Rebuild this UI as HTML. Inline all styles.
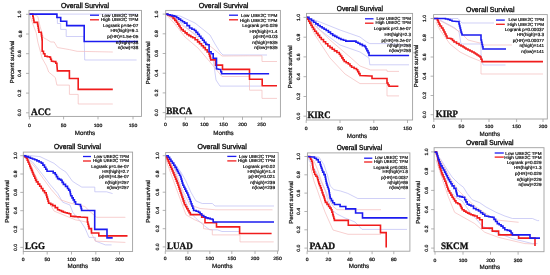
<!DOCTYPE html>
<html><head><meta charset="utf-8"><style>
html,body{margin:0;padding:0;background:#fff;width:550px;height:275px;overflow:hidden}
svg{display:block;font-family:"Liberation Sans", sans-serif;filter:blur(0.55px)} text{stroke:#111;stroke-width:0.22px;text-rendering:geometricPrecision} .lg{stroke-width:0.2px} .tt{stroke-width:0.36px} .nm{stroke:#111;stroke-width:0.3px} .yl{stroke-width:0.22px}
</style></head><body>
<svg width="550" height="275" viewBox="0 0 550 275">
<rect width="550" height="275" fill="#fff"/>
<g><polyline points="59.6,14.1 138.0,14.1" fill="none" stroke="#bcbcf4" stroke-width="0.7"/><polyline points="57.4,14.1 57.4,23.5 60.7,23.5 60.7,29.4 66.2,29.4 66.2,36.5 84.2,36.5 84.7,60.0 136.6,60.0" fill="none" stroke="#bcbcf4" stroke-width="0.7"/><polyline points="33.0,14.1 37.8,16.4 40.0,26.2 43.3,37.6 46.5,39.3 50.9,42.0 54.2,42.0 57.4,47.5 69.4,49.6 77.1,51.3 112.8,52.0" fill="none" stroke="#f4bcbc" stroke-width="0.7"/><polyline points="29.6,14.1 32.4,22.9 36.2,32.7 37.8,42.0 42.2,58.4 46.5,66.0 48.7,72.0 55.3,77.5 56.9,85.1 69.4,85.1 69.4,94.4 78.2,94.4 78.2,104.0 112.8,104.0" fill="none" stroke="#f4bcbc" stroke-width="0.7"/><polyline points="29.2,14.1 32.4,14.1 32.8,14.1 32.8,16.2 33.2,16.2 33.2,18.2 33.6,18.2 33.6,20.3 34.0,20.3 34.0,22.4 37.3,22.4 37.6,22.4 37.6,24.4 37.9,24.4 37.9,26.3 38.3,26.3 38.3,28.3 38.6,28.3 38.6,30.2 38.9,30.2 38.9,32.2 41.1,32.2 41.3,32.2 41.3,34.0 41.5,34.0 41.5,35.9 41.8,35.9 41.8,37.7 42.0,37.7 42.0,39.6 42.2,39.6 42.2,41.4 42.2,51.3 43.5,51.3 43.5,53.8 44.9,53.8 44.9,56.2 47.3,56.2 47.3,56.8 49.8,56.8 49.8,57.3 50.6,57.3 50.6,59.2 51.4,59.2 51.4,61.1 54.7,61.6 55.8,61.6 55.8,63.2 56.9,63.2 56.9,64.9 57.4,70.9 69.4,70.9 69.4,78.5 78.2,78.5 78.2,89.4 112.8,89.4" fill="none" stroke="#f01c1c" stroke-width="1.6"/><polyline points="29.2,14.1 56.9,14.1 56.9,17.5 60.7,17.5 60.7,21.3 66.7,21.3 66.7,25.6 84.2,25.6 84.2,41.5 138.0,41.5" fill="none" stroke="#1c1cf0" stroke-width="1.6"/><rect x="29" y="10.4" width="112.5" height="106.0" fill="none" stroke="#a0a0a0" stroke-width="0.9"/><line x1="26.0" y1="112.8" x2="29.0" y2="112.8" stroke="#a0a0a0" stroke-width="0.8"/><text x="20.0" y="112.8" transform="rotate(-90 20.0 112.8)" text-anchor="middle" dominant-baseline="central" font-size="4.7" textLength="7.06" lengthAdjust="spacingAndGlyphs" fill="#111">0.0</text><line x1="26.0" y1="93.1" x2="29.0" y2="93.1" stroke="#a0a0a0" stroke-width="0.8"/><text x="20.0" y="93.1" transform="rotate(-90 20.0 93.1)" text-anchor="middle" dominant-baseline="central" font-size="4.7" textLength="7.06" lengthAdjust="spacingAndGlyphs" fill="#111">0.2</text><line x1="26.0" y1="73.4" x2="29.0" y2="73.4" stroke="#a0a0a0" stroke-width="0.8"/><text x="20.0" y="73.4" transform="rotate(-90 20.0 73.4)" text-anchor="middle" dominant-baseline="central" font-size="4.7" textLength="7.06" lengthAdjust="spacingAndGlyphs" fill="#111">0.4</text><line x1="26.0" y1="53.7" x2="29.0" y2="53.7" stroke="#a0a0a0" stroke-width="0.8"/><text x="20.0" y="53.7" transform="rotate(-90 20.0 53.7)" text-anchor="middle" dominant-baseline="central" font-size="4.7" textLength="7.06" lengthAdjust="spacingAndGlyphs" fill="#111">0.6</text><line x1="26.0" y1="34.0" x2="29.0" y2="34.0" stroke="#a0a0a0" stroke-width="0.8"/><text x="20.0" y="34.0" transform="rotate(-90 20.0 34.0)" text-anchor="middle" dominant-baseline="central" font-size="4.7" textLength="7.06" lengthAdjust="spacingAndGlyphs" fill="#111">0.8</text><line x1="26.0" y1="14.3" x2="29.0" y2="14.3" stroke="#a0a0a0" stroke-width="0.8"/><text x="20.0" y="14.3" transform="rotate(-90 20.0 14.3)" text-anchor="middle" dominant-baseline="central" font-size="4.7" textLength="7.06" lengthAdjust="spacingAndGlyphs" fill="#111">1.0</text><line x1="29.4" y1="116.4" x2="29.4" y2="119.4" stroke="#a0a0a0" stroke-width="0.8"/><text x="29.4" y="126.9" text-anchor="middle" font-size="4.7" textLength="2.82" lengthAdjust="spacingAndGlyphs" fill="#111">0</text><line x1="63.6" y1="116.4" x2="63.6" y2="119.4" stroke="#a0a0a0" stroke-width="0.8"/><text x="63.6" y="126.9" text-anchor="middle" font-size="4.7" textLength="5.65" lengthAdjust="spacingAndGlyphs" fill="#111">50</text><line x1="98.0" y1="116.4" x2="98.0" y2="119.4" stroke="#a0a0a0" stroke-width="0.8"/><text x="98.0" y="126.9" text-anchor="middle" font-size="4.7" textLength="8.47" lengthAdjust="spacingAndGlyphs" fill="#111">100</text><line x1="133.0" y1="116.4" x2="133.0" y2="119.4" stroke="#a0a0a0" stroke-width="0.8"/><text x="133.0" y="126.9" text-anchor="middle" font-size="4.7" textLength="8.47" lengthAdjust="spacingAndGlyphs" fill="#111">150</text><text x="13.1" y="61.9" transform="rotate(-90 13.1 61.9)" text-anchor="middle" dominant-baseline="central" class="yl" font-size="5.8" textLength="42.7" lengthAdjust="spacingAndGlyphs" fill="#111">Percent survival</text><text x="61.0" y="8.1" class="tt" font-size="7.3" textLength="48.0" lengthAdjust="spacingAndGlyphs" fill="#111">Overall Survival</text><text x="85.0" y="134.5" text-anchor="middle" font-size="6.2" textLength="20.5" lengthAdjust="spacingAndGlyphs" fill="#111">Months</text><text x="31.1" y="114.7" font-family='"Liberation Serif", serif' class="nm" font-weight="bold" font-size="9.8" textLength="19.9" lengthAdjust="spacingAndGlyphs" fill="#111">ACC</text><line x1="90" y1="15.2" x2="99" y2="15.2" stroke="#1c1cf0" stroke-width="1.3"/><line x1="90" y1="19.8" x2="99" y2="19.8" stroke="#f01c1c" stroke-width="1.3"/><text x="138.3" y="16.8" text-anchor="end" class="lg" font-size="4.4" textLength="36.43" lengthAdjust="spacingAndGlyphs" fill="#111">Low UBE2C TPM</text><text x="138.3" y="21.0" text-anchor="end" class="lg" font-size="4.4" textLength="37.46" lengthAdjust="spacingAndGlyphs" fill="#111">High UBE2C TPM</text><text x="138.3" y="26.8" text-anchor="end" class="lg" font-size="4.4" textLength="35.36" lengthAdjust="spacingAndGlyphs" fill="#111">Logrank p=4e-07</text><text x="138.3" y="32.3" text-anchor="end" class="lg" font-size="4.4" textLength="27.84" lengthAdjust="spacingAndGlyphs" fill="#111">HR(high)=9.1</text><text x="138.3" y="38.3" text-anchor="end" class="lg" font-size="4.4" textLength="30.95" lengthAdjust="spacingAndGlyphs" fill="#111">p(HR)=1.5e-05</text><text x="138.3" y="43.5" text-anchor="end" class="lg" font-size="4.4" textLength="22.41" lengthAdjust="spacingAndGlyphs" fill="#111">n(high)=38</text><text x="138.3" y="49.0" text-anchor="end" class="lg" font-size="4.4" textLength="20.59" lengthAdjust="spacingAndGlyphs" fill="#111">n(low)=38</text></g>
<g><polyline points="165.7,14.1 180.0,16.0 195.0,23.0 210.0,35.0 215.0,44.0 220.0,52.0 223.0,55.0 267.0,55.0" fill="none" stroke="#bcbcf4" stroke-width="0.7"/><polyline points="165.7,14.1 180.0,22.0 195.0,35.0 205.0,48.0 213.0,58.0 216.0,80.0 220.0,86.1 261.0,86.1" fill="none" stroke="#bcbcf4" stroke-width="0.7"/><polyline points="165.7,14.1 180.0,24.0 195.0,34.0 205.0,42.0 215.0,50.0 222.0,56.0 249.5,55.8 262.0,55.8 262.0,61.5 277.0,61.5" fill="none" stroke="#f4bcbc" stroke-width="0.7"/><polyline points="165.7,14.1 175.0,24.0 185.0,37.0 198.0,48.0 210.0,62.0 222.0,76.5 249.5,76.5 249.5,90.2 262.0,90.2 262.0,98.4 277.0,98.4" fill="none" stroke="#f4bcbc" stroke-width="0.7"/><polyline points="165.7,14.1 167.6,14.1 167.6,14.9 169.6,14.9 169.6,15.7 171.5,15.7 171.5,16.5 173.1,16.5 173.1,18.4 174.8,18.4 174.8,20.4 176.4,20.4 176.4,22.3 177.6,22.3 177.6,24.1 178.9,24.1 178.9,26.0 180.1,26.0 180.1,27.8 181.3,27.8 181.3,29.6 183.2,29.6 183.2,31.2 185.1,31.2 185.1,32.9 187.0,32.9 187.0,34.5 188.9,34.5 188.9,35.6 190.8,35.6 190.8,36.7 192.7,36.7 192.7,37.8 195.1,37.8 195.1,39.8 197.6,39.8 197.6,41.9 199.5,41.9 199.5,43.8 201.5,43.8 201.5,45.7 203.4,45.7 203.4,47.6 205.3,47.6 205.3,49.8 207.2,49.8 207.2,52.0 209.1,52.0 209.1,54.2 209.6,54.2 209.6,56.1 210.2,56.1 210.2,58.0 210.7,58.0 210.7,59.9 215.6,59.9 215.6,65.1 222.5,65.1 222.5,69.4 249.5,69.4 249.5,79.2 262.2,79.2 262.2,85.8 277.0,85.8" fill="none" stroke="#f01c1c" stroke-width="1.6"/><polyline points="165.7,14.1 167.9,14.1 167.9,14.7 170.2,14.7 170.2,15.3 172.4,15.3 172.4,15.9 174.7,15.9 174.7,16.5 176.7,16.5 176.7,17.8 178.6,17.8 178.6,19.1 180.6,19.1 180.6,20.5 182.5,20.5 182.5,21.8 184.5,21.8 184.5,23.1 187.0,23.1 187.0,25.6 189.5,25.6 189.5,28.0 191.9,28.0 191.9,29.2 194.4,29.2 194.4,30.5 196.0,30.5 196.0,32.4 197.7,32.4 197.7,34.3 199.3,34.3 199.3,36.2 200.9,36.2 200.9,38.2 202.6,38.2 202.6,40.3 204.2,40.3 204.2,42.4 205.8,42.4 205.8,44.4 207.4,44.4 207.4,44.8 209.1,44.8 209.1,45.2 209.1,51.7 211.1,51.7 211.1,53.8 213.2,53.8 213.2,55.8 213.2,58.3 216.5,58.3 216.5,68.9 220.0,69.5 220.8,69.5 220.8,71.7 221.6,71.7 221.6,73.8 269.1,73.8" fill="none" stroke="#1c1cf0" stroke-width="1.6"/><rect x="165.7" y="10.4" width="114.7" height="106.5" fill="none" stroke="#a0a0a0" stroke-width="0.9"/><line x1="162.7" y1="112.6" x2="165.7" y2="112.6" stroke="#a0a0a0" stroke-width="0.8"/><text x="156.2" y="112.6" transform="rotate(-90 156.2 112.6)" text-anchor="middle" dominant-baseline="central" font-size="4.7" textLength="7.06" lengthAdjust="spacingAndGlyphs" fill="#111">0.0</text><line x1="162.7" y1="92.9" x2="165.7" y2="92.9" stroke="#a0a0a0" stroke-width="0.8"/><text x="156.2" y="92.9" transform="rotate(-90 156.2 92.9)" text-anchor="middle" dominant-baseline="central" font-size="4.7" textLength="7.06" lengthAdjust="spacingAndGlyphs" fill="#111">0.2</text><line x1="162.7" y1="73.2" x2="165.7" y2="73.2" stroke="#a0a0a0" stroke-width="0.8"/><text x="156.2" y="73.2" transform="rotate(-90 156.2 73.2)" text-anchor="middle" dominant-baseline="central" font-size="4.7" textLength="7.06" lengthAdjust="spacingAndGlyphs" fill="#111">0.4</text><line x1="162.7" y1="53.5" x2="165.7" y2="53.5" stroke="#a0a0a0" stroke-width="0.8"/><text x="156.2" y="53.5" transform="rotate(-90 156.2 53.5)" text-anchor="middle" dominant-baseline="central" font-size="4.7" textLength="7.06" lengthAdjust="spacingAndGlyphs" fill="#111">0.6</text><line x1="162.7" y1="33.8" x2="165.7" y2="33.8" stroke="#a0a0a0" stroke-width="0.8"/><text x="156.2" y="33.8" transform="rotate(-90 156.2 33.8)" text-anchor="middle" dominant-baseline="central" font-size="4.7" textLength="7.06" lengthAdjust="spacingAndGlyphs" fill="#111">0.8</text><line x1="162.7" y1="14.1" x2="165.7" y2="14.1" stroke="#a0a0a0" stroke-width="0.8"/><text x="156.2" y="14.1" transform="rotate(-90 156.2 14.1)" text-anchor="middle" dominant-baseline="central" font-size="4.7" textLength="7.06" lengthAdjust="spacingAndGlyphs" fill="#111">1.0</text><line x1="165.4" y1="116.9" x2="165.4" y2="119.9" stroke="#a0a0a0" stroke-width="0.8"/><text x="165.4" y="126.3" text-anchor="middle" font-size="4.7" textLength="2.82" lengthAdjust="spacingAndGlyphs" fill="#111">0</text><line x1="185.3" y1="116.9" x2="185.3" y2="119.9" stroke="#a0a0a0" stroke-width="0.8"/><text x="185.3" y="126.3" text-anchor="middle" font-size="4.7" textLength="5.65" lengthAdjust="spacingAndGlyphs" fill="#111">50</text><line x1="204.4" y1="116.9" x2="204.4" y2="119.9" stroke="#a0a0a0" stroke-width="0.8"/><text x="204.4" y="126.3" text-anchor="middle" font-size="4.7" textLength="8.47" lengthAdjust="spacingAndGlyphs" fill="#111">100</text><line x1="223.5" y1="116.9" x2="223.5" y2="119.9" stroke="#a0a0a0" stroke-width="0.8"/><text x="223.5" y="126.3" text-anchor="middle" font-size="4.7" textLength="8.47" lengthAdjust="spacingAndGlyphs" fill="#111">150</text><line x1="242.5" y1="116.9" x2="242.5" y2="119.9" stroke="#a0a0a0" stroke-width="0.8"/><text x="242.5" y="126.3" text-anchor="middle" font-size="4.7" textLength="8.47" lengthAdjust="spacingAndGlyphs" fill="#111">200</text><line x1="261.6" y1="116.9" x2="261.6" y2="119.9" stroke="#a0a0a0" stroke-width="0.8"/><text x="261.6" y="126.3" text-anchor="middle" font-size="4.7" textLength="8.47" lengthAdjust="spacingAndGlyphs" fill="#111">250</text><text x="149.3" y="62.8" transform="rotate(-90 149.3 62.8)" text-anchor="middle" dominant-baseline="central" class="yl" font-size="5.8" textLength="42.7" lengthAdjust="spacingAndGlyphs" fill="#111">Percent survival</text><text x="198.8" y="8.1" class="tt" font-size="7.3" textLength="49.6" lengthAdjust="spacingAndGlyphs" fill="#111">Overall Survival</text><text x="223.5" y="135.0" text-anchor="middle" font-size="6.2" textLength="20.5" lengthAdjust="spacingAndGlyphs" fill="#111">Months</text><text x="166.2" y="113.8" font-family='"Liberation Serif", serif' class="nm" font-weight="bold" font-size="9.8" textLength="26.0" lengthAdjust="spacingAndGlyphs" fill="#111">BRCA</text><line x1="229" y1="15.2" x2="238" y2="15.2" stroke="#1c1cf0" stroke-width="1.3"/><line x1="229" y1="19.8" x2="238" y2="19.8" stroke="#f01c1c" stroke-width="1.3"/><text x="277.5" y="17.0" text-anchor="end" class="lg" font-size="4.4" textLength="36.58" lengthAdjust="spacingAndGlyphs" fill="#111">Low UBE2C TPM</text><text x="277.5" y="21.5" text-anchor="end" class="lg" font-size="4.4" textLength="37.62" lengthAdjust="spacingAndGlyphs" fill="#111">High UBE2C TPM</text><text x="277.5" y="27.0" text-anchor="end" class="lg" font-size="4.4" textLength="35.26" lengthAdjust="spacingAndGlyphs" fill="#111">Logrank p=0.029</text><text x="277.5" y="32.5" text-anchor="end" class="lg" font-size="4.4" textLength="27.96" lengthAdjust="spacingAndGlyphs" fill="#111">HR(high)=1.4</text><text x="277.5" y="38.0" text-anchor="end" class="lg" font-size="4.4" textLength="24.32" lengthAdjust="spacingAndGlyphs" fill="#111">p(HR)=0.03</text><text x="277.5" y="43.5" text-anchor="end" class="lg" font-size="4.4" textLength="25.11" lengthAdjust="spacingAndGlyphs" fill="#111">n(high)=535</text><text x="277.5" y="49.0" text-anchor="end" class="lg" font-size="4.4" textLength="23.28" lengthAdjust="spacingAndGlyphs" fill="#111">n(low)=535</text></g>
<g><polyline points="306.5,17.4 320.0,22.0 340.0,30.0 360.0,37.0 366.5,41.9 369.8,43.6 386.0,43.6 409.0,45.0" fill="none" stroke="#bcbcf4" stroke-width="0.7"/><polyline points="306.5,17.4 320.0,30.0 340.0,45.0 360.0,52.0 369.0,58.0 369.8,64.8 409.0,64.8" fill="none" stroke="#bcbcf4" stroke-width="0.7"/><polyline points="306.5,17.4 330.0,40.0 350.0,57.0 360.0,66.0 370.6,70.0 387.0,70.0 387.0,71.4 399.0,71.4" fill="none" stroke="#f4bcbc" stroke-width="0.7"/><polyline points="306.5,17.4 315.0,35.0 330.0,58.0 345.0,74.0 360.0,83.6 387.0,83.6 387.0,95.9 399.0,95.9" fill="none" stroke="#f4bcbc" stroke-width="0.7"/><polyline points="306.5,17.4 307.6,17.4 307.6,19.3 308.7,19.3 308.7,21.2 309.8,21.2 309.8,23.1 311.0,23.1 311.0,25.2 312.2,25.2 312.2,27.2 313.5,27.2 313.5,29.2 314.7,29.2 314.7,31.3 316.4,31.3 316.4,33.4 318.0,33.4 318.0,35.4 319.6,35.4 319.6,37.5 321.3,37.5 321.3,39.5 323.5,39.5 323.5,41.7 325.6,41.7 325.6,43.8 327.8,43.8 327.8,46.0 330.0,46.0 330.0,47.6 332.2,47.6 332.2,49.3 334.4,49.3 334.4,50.9 336.9,50.9 336.9,52.5 339.3,52.5 339.3,54.2 340.5,54.2 340.5,56.0 341.8,56.0 341.8,57.9 343.0,57.9 343.0,59.7 344.2,59.7 344.2,61.5 346.2,61.5 346.2,62.8 348.3,62.8 348.3,64.0 350.0,64.0 350.0,65.7 351.6,65.7 351.6,67.3 354.1,67.3 354.1,68.5 356.5,68.5 356.5,69.7 357.7,69.7 357.7,71.6 358.8,71.6 358.8,73.6 360.0,73.6 360.0,75.5 370.6,76.0 372.0,76.0 372.0,78.5 387.0,78.5 387.0,83.0 388.0,83.0 388.0,84.7 389.0,84.7 389.0,86.3 398.4,86.3" fill="none" stroke="#f01c1c" stroke-width="1.6"/><polyline points="306.5,17.4 309.0,17.4 309.0,19.0 311.5,19.0 311.5,20.6 313.7,20.6 313.7,22.2 315.8,22.2 315.8,23.9 318.0,23.9 318.0,25.5 320.1,25.5 320.1,26.8 322.1,26.8 322.1,28.0 324.1,28.0 324.1,29.2 326.2,29.2 326.2,30.5 328.4,30.5 328.4,32.1 330.5,32.1 330.5,33.8 332.7,33.8 332.7,35.4 334.8,35.4 334.8,36.4 336.8,36.4 336.8,37.5 338.8,37.5 338.8,38.5 340.9,38.5 340.9,39.5 343.4,39.5 343.4,40.3 345.8,40.3 345.8,41.1 354.0,41.1 356.0,41.1 356.0,42.2 358.0,42.2 358.0,43.3 360.0,43.3 360.0,44.4 362.4,44.4 362.4,45.6 364.9,45.6 364.9,46.8 365.9,46.8 365.9,48.7 366.9,48.7 366.9,50.6 368.0,50.6 368.0,52.6 369.0,52.6 369.0,54.5 369.0,55.5 409.1,55.5" fill="none" stroke="#1c1cf0" stroke-width="1.6"/><rect x="306.5" y="13.4" width="106.1" height="106.6" fill="none" stroke="#a0a0a0" stroke-width="0.9"/><line x1="303.5" y1="116.2" x2="306.5" y2="116.2" stroke="#a0a0a0" stroke-width="0.8"/><text x="298.2" y="116.2" transform="rotate(-90 298.2 116.2)" text-anchor="middle" dominant-baseline="central" font-size="4.7" textLength="7.06" lengthAdjust="spacingAndGlyphs" fill="#111">0.0</text><line x1="303.5" y1="96.5" x2="306.5" y2="96.5" stroke="#a0a0a0" stroke-width="0.8"/><text x="298.2" y="96.5" transform="rotate(-90 298.2 96.5)" text-anchor="middle" dominant-baseline="central" font-size="4.7" textLength="7.06" lengthAdjust="spacingAndGlyphs" fill="#111">0.2</text><line x1="303.5" y1="76.7" x2="306.5" y2="76.7" stroke="#a0a0a0" stroke-width="0.8"/><text x="298.2" y="76.7" transform="rotate(-90 298.2 76.7)" text-anchor="middle" dominant-baseline="central" font-size="4.7" textLength="7.06" lengthAdjust="spacingAndGlyphs" fill="#111">0.4</text><line x1="303.5" y1="56.9" x2="306.5" y2="56.9" stroke="#a0a0a0" stroke-width="0.8"/><text x="298.2" y="56.9" transform="rotate(-90 298.2 56.9)" text-anchor="middle" dominant-baseline="central" font-size="4.7" textLength="7.06" lengthAdjust="spacingAndGlyphs" fill="#111">0.6</text><line x1="303.5" y1="37.2" x2="306.5" y2="37.2" stroke="#a0a0a0" stroke-width="0.8"/><text x="298.2" y="37.2" transform="rotate(-90 298.2 37.2)" text-anchor="middle" dominant-baseline="central" font-size="4.7" textLength="7.06" lengthAdjust="spacingAndGlyphs" fill="#111">0.8</text><line x1="303.5" y1="17.4" x2="306.5" y2="17.4" stroke="#a0a0a0" stroke-width="0.8"/><text x="298.2" y="17.4" transform="rotate(-90 298.2 17.4)" text-anchor="middle" dominant-baseline="central" font-size="4.7" textLength="7.06" lengthAdjust="spacingAndGlyphs" fill="#111">1.0</text><line x1="306.2" y1="120.0" x2="306.2" y2="123.0" stroke="#a0a0a0" stroke-width="0.8"/><text x="306.2" y="130.0" text-anchor="middle" font-size="4.7" textLength="2.82" lengthAdjust="spacingAndGlyphs" fill="#111">0</text><line x1="340.0" y1="120.0" x2="340.0" y2="123.0" stroke="#a0a0a0" stroke-width="0.8"/><text x="340.0" y="130.0" text-anchor="middle" font-size="4.7" textLength="5.65" lengthAdjust="spacingAndGlyphs" fill="#111">50</text><line x1="373.8" y1="120.0" x2="373.8" y2="123.0" stroke="#a0a0a0" stroke-width="0.8"/><text x="373.8" y="130.0" text-anchor="middle" font-size="4.7" textLength="8.47" lengthAdjust="spacingAndGlyphs" fill="#111">100</text><line x1="407.5" y1="120.0" x2="407.5" y2="123.0" stroke="#a0a0a0" stroke-width="0.8"/><text x="407.5" y="130.0" text-anchor="middle" font-size="4.7" textLength="8.47" lengthAdjust="spacingAndGlyphs" fill="#111">150</text><text x="291.3" y="66.8" transform="rotate(-90 291.3 66.8)" text-anchor="middle" dominant-baseline="central" class="yl" font-size="5.8" textLength="42.7" lengthAdjust="spacingAndGlyphs" fill="#111">Percent survival</text><text x="336.8" y="11.0" class="tt" font-size="7.3" textLength="46.1" lengthAdjust="spacingAndGlyphs" fill="#111">Overall Survival</text><text x="357.0" y="137.6" text-anchor="middle" font-size="6.2" textLength="20.5" lengthAdjust="spacingAndGlyphs" fill="#111">Months</text><text x="307.5" y="118.0" font-family='"Liberation Serif", serif' class="nm" font-weight="bold" font-size="9.8" textLength="23.0" lengthAdjust="spacingAndGlyphs" fill="#111">KIRC</text><line x1="365" y1="18.8" x2="373.5" y2="18.8" stroke="#1c1cf0" stroke-width="1.3"/><line x1="365" y1="23.2" x2="373.5" y2="23.2" stroke="#f01c1c" stroke-width="1.3"/><text x="411.0" y="20.2" text-anchor="end" class="lg" font-size="4.4" textLength="34.55" lengthAdjust="spacingAndGlyphs" fill="#111">Low UBE2C TPM</text><text x="411.0" y="24.2" text-anchor="end" class="lg" font-size="4.4" textLength="35.53" lengthAdjust="spacingAndGlyphs" fill="#111">High UBE2C TPM</text><text x="411.0" y="30.2" text-anchor="end" class="lg" font-size="4.4" textLength="37.23" lengthAdjust="spacingAndGlyphs" fill="#111">Logrank p=2.5e-07</text><text x="411.0" y="35.5" text-anchor="end" class="lg" font-size="4.4" textLength="26.41" lengthAdjust="spacingAndGlyphs" fill="#111">HR(high)=2.3</text><text x="411.0" y="41.5" text-anchor="end" class="lg" font-size="4.4" textLength="29.36" lengthAdjust="spacingAndGlyphs" fill="#111">p(HR)=5.2e-07</text><text x="411.0" y="46.5" text-anchor="end" class="lg" font-size="4.4" textLength="23.71" lengthAdjust="spacingAndGlyphs" fill="#111">n(high)=258</text><text x="411.0" y="52.2" text-anchor="end" class="lg" font-size="4.4" textLength="21.99" lengthAdjust="spacingAndGlyphs" fill="#111">n(low)=258</text></g>
<g><polyline points="443.0,18.5 458.0,18.5 461.0,22.0 462.0,23.0 494.0,23.0" fill="none" stroke="#bcbcf4" stroke-width="0.7"/><polyline points="440.0,20.0 455.0,28.0 459.0,32.0 461.0,44.0 481.0,44.0 481.0,54.0 483.0,65.0 505.5,65.0" fill="none" stroke="#bcbcf4" stroke-width="0.7"/><polyline points="436.0,18.5 452.0,27.0 460.0,32.0 468.0,40.0 480.0,43.0 483.0,45.0 512.0,45.0" fill="none" stroke="#f4bcbc" stroke-width="0.7"/><polyline points="436.0,22.0 440.0,30.0 450.0,44.0 460.0,52.0 470.0,57.0 480.0,61.0 481.0,62.0 481.0,74.0 543.0,74.0" fill="none" stroke="#f4bcbc" stroke-width="0.7"/><polyline points="433.6,18.5 436.5,18.5 437.4,18.5 437.4,20.4 438.2,20.4 438.2,22.2 439.1,22.2 439.1,24.1 440.0,24.1 440.0,26.0 441.5,26.0 441.5,28.0 443.0,28.0 443.0,30.0 444.0,30.0 444.0,32.0 445.0,32.0 445.0,34.0 446.0,34.0 446.0,36.0 447.0,36.0 447.0,38.0 451.0,38.5 451.0,39.0 452.5,39.0 452.5,40.5 454.0,40.5 454.0,42.0 456.5,42.0 456.5,43.5 459.0,43.5 459.0,45.0 461.0,45.0 461.0,46.0 463.0,46.0 463.0,47.0 464.5,47.0 464.5,48.0 466.0,48.0 466.0,49.0 468.0,49.0 468.0,50.0 470.0,50.0 470.0,51.0 472.0,51.0 472.0,52.0 474.0,52.0 474.0,53.0 475.5,53.0 475.5,54.0 477.0,54.0 477.0,55.0 478.5,55.0 478.5,56.0 480.0,56.0 480.0,57.0 481.0,57.0 481.0,59.3 482.0,59.3 482.0,61.6 543.0,61.6" fill="none" stroke="#f01c1c" stroke-width="1.6"/><polyline points="433.6,18.5 443.0,18.5 445.5,18.5 445.5,19.0 448.0,19.0 448.0,19.5 450.0,19.5 450.0,20.2 452.0,20.2 452.0,21.0 457.0,21.5 459.0,21.5 459.0,24.0 459.5,24.0 459.5,26.0 460.0,26.0 460.0,28.0 460.5,28.0 460.5,30.0 461.0,30.0 461.0,32.0 461.5,32.0 461.5,33.5 462.0,33.5 462.0,35.0 481.0,35.0 481.0,40.0 481.5,40.0 481.5,42.2 482.0,42.2 482.0,44.5 482.5,44.5 482.5,46.8 483.0,46.8 483.0,49.0 506.0,49.0" fill="none" stroke="#1c1cf0" stroke-width="1.6"/><rect x="433.6" y="14.6" width="113.7" height="104.4" fill="none" stroke="#a0a0a0" stroke-width="0.9"/><line x1="430.6" y1="114.7" x2="433.6" y2="114.7" stroke="#a0a0a0" stroke-width="0.8"/><text x="424.7" y="114.7" transform="rotate(-90 424.7 114.7)" text-anchor="middle" dominant-baseline="central" font-size="4.7" textLength="7.06" lengthAdjust="spacingAndGlyphs" fill="#111">0.0</text><line x1="430.6" y1="95.5" x2="433.6" y2="95.5" stroke="#a0a0a0" stroke-width="0.8"/><text x="424.7" y="95.5" transform="rotate(-90 424.7 95.5)" text-anchor="middle" dominant-baseline="central" font-size="4.7" textLength="7.06" lengthAdjust="spacingAndGlyphs" fill="#111">0.2</text><line x1="430.6" y1="76.2" x2="433.6" y2="76.2" stroke="#a0a0a0" stroke-width="0.8"/><text x="424.7" y="76.2" transform="rotate(-90 424.7 76.2)" text-anchor="middle" dominant-baseline="central" font-size="4.7" textLength="7.06" lengthAdjust="spacingAndGlyphs" fill="#111">0.4</text><line x1="430.6" y1="57.0" x2="433.6" y2="57.0" stroke="#a0a0a0" stroke-width="0.8"/><text x="424.7" y="57.0" transform="rotate(-90 424.7 57.0)" text-anchor="middle" dominant-baseline="central" font-size="4.7" textLength="7.06" lengthAdjust="spacingAndGlyphs" fill="#111">0.6</text><line x1="430.6" y1="37.7" x2="433.6" y2="37.7" stroke="#a0a0a0" stroke-width="0.8"/><text x="424.7" y="37.7" transform="rotate(-90 424.7 37.7)" text-anchor="middle" dominant-baseline="central" font-size="4.7" textLength="7.06" lengthAdjust="spacingAndGlyphs" fill="#111">0.8</text><line x1="430.6" y1="18.5" x2="433.6" y2="18.5" stroke="#a0a0a0" stroke-width="0.8"/><text x="424.7" y="18.5" transform="rotate(-90 424.7 18.5)" text-anchor="middle" dominant-baseline="central" font-size="4.7" textLength="7.06" lengthAdjust="spacingAndGlyphs" fill="#111">1.0</text><line x1="433.8" y1="119.0" x2="433.8" y2="122.0" stroke="#a0a0a0" stroke-width="0.8"/><text x="433.8" y="128.2" text-anchor="middle" font-size="4.7" textLength="2.82" lengthAdjust="spacingAndGlyphs" fill="#111">0</text><line x1="461.4" y1="119.0" x2="461.4" y2="122.0" stroke="#a0a0a0" stroke-width="0.8"/><text x="461.4" y="128.2" text-anchor="middle" font-size="4.7" textLength="5.65" lengthAdjust="spacingAndGlyphs" fill="#111">50</text><line x1="489.0" y1="119.0" x2="489.0" y2="122.0" stroke="#a0a0a0" stroke-width="0.8"/><text x="489.0" y="128.2" text-anchor="middle" font-size="4.7" textLength="8.47" lengthAdjust="spacingAndGlyphs" fill="#111">100</text><line x1="516.6" y1="119.0" x2="516.6" y2="122.0" stroke="#a0a0a0" stroke-width="0.8"/><text x="516.6" y="128.2" text-anchor="middle" font-size="4.7" textLength="8.47" lengthAdjust="spacingAndGlyphs" fill="#111">150</text><line x1="543.0" y1="119.0" x2="543.0" y2="122.0" stroke="#a0a0a0" stroke-width="0.8"/><text x="543.0" y="128.2" text-anchor="middle" font-size="4.7" textLength="8.47" lengthAdjust="spacingAndGlyphs" fill="#111">200</text><text x="416.9" y="65.9" transform="rotate(-90 416.9 65.9)" text-anchor="middle" dominant-baseline="central" class="yl" font-size="5.8" textLength="42.7" lengthAdjust="spacingAndGlyphs" fill="#111">Percent survival</text><text x="466.0" y="12.4" class="tt" font-size="7.3" textLength="48.5" lengthAdjust="spacingAndGlyphs" fill="#111">Overall Survival</text><text x="489.8" y="135.6" text-anchor="middle" font-size="6.2" textLength="20.5" lengthAdjust="spacingAndGlyphs" fill="#111">Months</text><text x="435.8" y="117.0" font-family='"Liberation Serif", serif' class="nm" font-weight="bold" font-size="9.8" textLength="22.2" lengthAdjust="spacingAndGlyphs" fill="#111">KIRP</text><line x1="496" y1="20.1" x2="504.8" y2="20.1" stroke="#1c1cf0" stroke-width="1.3"/><line x1="496" y1="24.3" x2="504.8" y2="24.3" stroke="#f01c1c" stroke-width="1.3"/><text x="544.0" y="21.4" text-anchor="end" class="lg" font-size="4.4" textLength="35.57" lengthAdjust="spacingAndGlyphs" fill="#111">Low UBE2C TPM</text><text x="544.0" y="25.5" text-anchor="end" class="lg" font-size="4.4" textLength="36.58" lengthAdjust="spacingAndGlyphs" fill="#111">High UBE2C TPM</text><text x="544.0" y="31.0" text-anchor="end" class="lg" font-size="4.4" textLength="39.34" lengthAdjust="spacingAndGlyphs" fill="#111">Logrank p=0.00037</text><text x="544.0" y="35.9" text-anchor="end" class="lg" font-size="4.4" textLength="27.19" lengthAdjust="spacingAndGlyphs" fill="#111">HR(high)=3.3</text><text x="544.0" y="41.8" text-anchor="end" class="lg" font-size="4.4" textLength="31.24" lengthAdjust="spacingAndGlyphs" fill="#111">p(HR)=0.00077</text><text x="544.0" y="47.0" text-anchor="end" class="lg" font-size="4.4" textLength="24.41" lengthAdjust="spacingAndGlyphs" fill="#111">n(high)=141</text><text x="544.0" y="52.5" text-anchor="end" class="lg" font-size="4.4" textLength="22.64" lengthAdjust="spacingAndGlyphs" fill="#111">n(low)=141</text></g>
<g><polyline points="23.8,155.0 40.0,156.6 54.0,163.3 60.2,168.4 66.0,172.1 72.4,181.2 75.9,183.5 81.8,187.1 94.8,187.1 94.8,191.8 106.6,191.8 112.6,193.6" fill="none" stroke="#bcbcf4" stroke-width="0.7"/><polyline points="23.3,155.7 32.6,162.0 42.6,174.6 50.2,184.7 57.7,193.4 62.7,202.2 70.0,205.0 72.8,212.3 80.3,221.0 85.0,228.0 89.0,237.4 95.3,237.4 95.3,241.0 105.4,244.9 111.6,244.9" fill="none" stroke="#bcbcf4" stroke-width="0.7"/><polyline points="25.0,155.8 35.0,167.1 44.0,179.6 51.4,189.7 60.2,199.7 70.0,203.0 84.9,206.5 89.8,211.4 96.6,217.3 125.4,217.3" fill="none" stroke="#f4bcbc" stroke-width="0.7"/><polyline points="25.0,158.0 31.4,167.0 40.0,185.0 47.7,199.7 54.0,211.0 75.3,219.8 87.8,222.3 91.6,233.6 95.3,241.1 125.4,242.4" fill="none" stroke="#f4bcbc" stroke-width="0.7"/><polyline points="23.3,155.7 24.9,155.7 24.9,156.9 26.5,156.9 26.5,158.2 27.3,158.2 27.3,160.2 28.1,160.2 28.1,162.3 29.0,162.3 29.0,164.3 29.8,164.3 29.8,166.4 30.6,166.4 30.6,168.4 31.5,168.4 31.5,170.4 32.3,170.4 32.3,172.5 33.1,172.5 33.1,174.5 33.9,174.5 33.9,176.3 34.8,176.3 34.8,178.2 35.6,178.2 35.6,180.1 36.4,180.1 36.4,181.9 38.0,181.9 38.0,184.1 39.7,184.1 39.7,186.3 41.3,186.3 41.3,188.5 42.9,188.5 42.9,190.7 44.6,190.7 44.6,192.8 46.2,192.8 46.2,195.0 46.8,195.0 46.8,197.1 47.4,197.1 47.4,199.1 48.0,199.1 48.0,201.1 48.6,201.1 48.6,203.2 50.7,203.2 50.7,204.4 52.7,204.4 52.7,205.6 55.2,205.6 55.2,207.6 57.6,207.6 57.6,209.7 59.5,209.7 59.5,210.5 61.5,210.5 61.5,211.4 63.4,211.4 63.4,212.2 65.3,212.2 65.3,212.7 67.2,212.7 67.2,213.3 69.1,213.3 69.1,213.8 70.7,213.8 70.7,216.3 72.6,216.3 72.6,216.4 74.4,216.4 74.4,216.6 76.3,216.6 76.3,216.7 78.1,216.7 78.1,216.9 80.0,216.9 80.0,217.0 87.4,217.5 87.4,222.0 87.9,222.0 87.9,224.2 88.5,224.2 88.5,226.4 89.0,226.4 89.0,228.6 91.5,228.6 91.5,233.0 98.8,233.0 98.8,235.9 127.5,235.9" fill="none" stroke="#f01c1c" stroke-width="1.6"/><polyline points="23.3,155.7 25.8,155.7 25.8,156.6 28.2,156.6 28.2,157.4 30.4,157.4 30.4,158.2 32.5,158.2 32.5,159.0 34.7,159.0 34.7,159.8 36.9,159.8 36.9,160.9 39.1,160.9 39.1,162.0 41.3,162.0 41.3,163.1 42.9,163.1 42.9,165.1 44.5,165.1 44.5,167.2 45.8,167.2 45.8,169.2 47.0,169.2 47.0,171.3 51.1,171.3 53.2,171.3 53.2,172.9 55.2,172.9 55.2,174.5 56.4,174.5 56.4,176.6 57.6,176.6 57.6,178.6 59.2,178.6 59.2,179.4 60.9,179.4 60.9,180.3 62.1,180.3 62.1,182.4 63.4,182.4 63.4,184.4 65.5,184.4 65.5,186.4 67.5,186.4 67.5,188.5 68.7,188.5 68.7,190.1 69.9,190.1 69.9,191.7 70.3,191.7 70.3,193.8 70.7,193.8 70.7,195.8 72.0,195.8 72.0,197.9 73.2,197.9 73.2,199.9 74.4,199.9 74.4,201.9 75.6,201.9 75.6,204.0 80.0,204.5 80.5,204.5 80.5,206.5 81.1,206.5 81.1,208.5 81.6,208.5 81.6,210.5 94.7,210.5 94.7,229.4 107.0,229.4 107.0,237.9 112.7,237.9" fill="none" stroke="#1c1cf0" stroke-width="1.6"/><rect x="23.3" y="152.1" width="109.3" height="99.4" fill="none" stroke="#a0a0a0" stroke-width="0.9"/><line x1="20.3" y1="247.4" x2="23.3" y2="247.4" stroke="#a0a0a0" stroke-width="0.8"/><text x="15.5" y="247.4" transform="rotate(-90 15.5 247.4)" text-anchor="middle" dominant-baseline="central" font-size="4.7" textLength="7.06" lengthAdjust="spacingAndGlyphs" fill="#111">0.0</text><line x1="20.3" y1="229.1" x2="23.3" y2="229.1" stroke="#a0a0a0" stroke-width="0.8"/><text x="15.5" y="229.1" transform="rotate(-90 15.5 229.1)" text-anchor="middle" dominant-baseline="central" font-size="4.7" textLength="7.06" lengthAdjust="spacingAndGlyphs" fill="#111">0.2</text><line x1="20.3" y1="210.7" x2="23.3" y2="210.7" stroke="#a0a0a0" stroke-width="0.8"/><text x="15.5" y="210.7" transform="rotate(-90 15.5 210.7)" text-anchor="middle" dominant-baseline="central" font-size="4.7" textLength="7.06" lengthAdjust="spacingAndGlyphs" fill="#111">0.4</text><line x1="20.3" y1="192.4" x2="23.3" y2="192.4" stroke="#a0a0a0" stroke-width="0.8"/><text x="15.5" y="192.4" transform="rotate(-90 15.5 192.4)" text-anchor="middle" dominant-baseline="central" font-size="4.7" textLength="7.06" lengthAdjust="spacingAndGlyphs" fill="#111">0.6</text><line x1="20.3" y1="174.0" x2="23.3" y2="174.0" stroke="#a0a0a0" stroke-width="0.8"/><text x="15.5" y="174.0" transform="rotate(-90 15.5 174.0)" text-anchor="middle" dominant-baseline="central" font-size="4.7" textLength="7.06" lengthAdjust="spacingAndGlyphs" fill="#111">0.8</text><line x1="20.3" y1="155.7" x2="23.3" y2="155.7" stroke="#a0a0a0" stroke-width="0.8"/><text x="15.5" y="155.7" transform="rotate(-90 15.5 155.7)" text-anchor="middle" dominant-baseline="central" font-size="4.7" textLength="7.06" lengthAdjust="spacingAndGlyphs" fill="#111">1.0</text><line x1="23.3" y1="251.5" x2="23.3" y2="254.5" stroke="#a0a0a0" stroke-width="0.8"/><text x="23.3" y="260.9" text-anchor="middle" font-size="4.7" textLength="2.82" lengthAdjust="spacingAndGlyphs" fill="#111">0</text><line x1="47.2" y1="251.5" x2="47.2" y2="254.5" stroke="#a0a0a0" stroke-width="0.8"/><text x="47.2" y="260.9" text-anchor="middle" font-size="4.7" textLength="5.65" lengthAdjust="spacingAndGlyphs" fill="#111">50</text><line x1="71.5" y1="251.5" x2="71.5" y2="254.5" stroke="#a0a0a0" stroke-width="0.8"/><text x="71.5" y="260.9" text-anchor="middle" font-size="4.7" textLength="8.47" lengthAdjust="spacingAndGlyphs" fill="#111">100</text><line x1="95.8" y1="251.5" x2="95.8" y2="254.5" stroke="#a0a0a0" stroke-width="0.8"/><text x="95.8" y="260.9" text-anchor="middle" font-size="4.7" textLength="8.47" lengthAdjust="spacingAndGlyphs" fill="#111">150</text><line x1="119.5" y1="251.5" x2="119.5" y2="254.5" stroke="#a0a0a0" stroke-width="0.8"/><text x="119.5" y="260.9" text-anchor="middle" font-size="4.7" textLength="8.47" lengthAdjust="spacingAndGlyphs" fill="#111">200</text><text x="8.2" y="201.4" transform="rotate(-90 8.2 201.4)" text-anchor="middle" dominant-baseline="central" class="yl" font-size="5.8" textLength="42.7" lengthAdjust="spacingAndGlyphs" fill="#111">Percent survival</text><text x="54.1" y="149.3" class="tt" font-size="7.3" textLength="46.9" lengthAdjust="spacingAndGlyphs" fill="#111">Overall Survival</text><text x="77.8" y="268.3" text-anchor="middle" font-size="6.2" textLength="20.5" lengthAdjust="spacingAndGlyphs" fill="#111">Months</text><text x="25.0" y="249.0" font-family='"Liberation Serif", serif' class="nm" font-weight="bold" font-size="9.8" textLength="20.0" lengthAdjust="spacingAndGlyphs" fill="#111">LGG</text><line x1="83" y1="156.5" x2="91" y2="156.5" stroke="#1c1cf0" stroke-width="1.3"/><line x1="83" y1="161" x2="91" y2="161" stroke="#f01c1c" stroke-width="1.3"/><text x="129.0" y="157.8" text-anchor="end" class="lg" font-size="4.4" textLength="35.02" lengthAdjust="spacingAndGlyphs" fill="#111">Low UBE2C TPM</text><text x="129.0" y="162.0" text-anchor="end" class="lg" font-size="4.4" textLength="36.02" lengthAdjust="spacingAndGlyphs" fill="#111">High UBE2C TPM</text><text x="129.0" y="168.0" text-anchor="end" class="lg" font-size="4.4" textLength="37.73" lengthAdjust="spacingAndGlyphs" fill="#111">Logrank p=1.6e-07</text><text x="129.0" y="173.0" text-anchor="end" class="lg" font-size="4.4" textLength="26.77" lengthAdjust="spacingAndGlyphs" fill="#111">HR(high)=2.7</text><text x="129.0" y="178.3" text-anchor="end" class="lg" font-size="4.4" textLength="29.75" lengthAdjust="spacingAndGlyphs" fill="#111">p(HR)=4.8e-07</text><text x="129.0" y="183.5" text-anchor="end" class="lg" font-size="4.4" textLength="24.03" lengthAdjust="spacingAndGlyphs" fill="#111">n(high)=257</text><text x="129.0" y="188.5" text-anchor="end" class="lg" font-size="4.4" textLength="22.29" lengthAdjust="spacingAndGlyphs" fill="#111">n(low)=257</text></g>
<g><polyline points="165.9,155.0 173.4,162.1 180.9,172.1 185.9,180.9 190.9,192.2 196.0,201.0 202.2,203.5 212.3,203.5 215.0,206.0 274.0,206.0" fill="none" stroke="#bcbcf4" stroke-width="0.7"/><polyline points="168.0,160.0 176.0,175.0 183.0,195.0 190.0,212.0 196.0,218.5 204.7,226.0 209.8,229.8 217.3,229.8 222.0,231.5 240.0,231.5" fill="none" stroke="#bcbcf4" stroke-width="0.7"/><polyline points="166.0,156.0 175.0,170.0 182.2,189.7 189.7,204.7 200.0,208.5 216.0,209.8 272.5,209.8" fill="none" stroke="#f4bcbc" stroke-width="0.7"/><polyline points="166.0,160.0 175.0,185.0 186.0,214.8 194.7,219.8 203.5,223.6 203.5,228.6 212.3,229.8 212.3,234.9 240.0,234.9 240.0,241.9 273.7,241.9" fill="none" stroke="#f4bcbc" stroke-width="0.7"/><polyline points="165.7,155.7 166.5,155.7 166.5,157.6 167.3,157.6 167.3,159.5 168.2,159.5 168.2,161.4 169.0,161.4 169.0,163.3 169.8,163.3 169.8,165.3 170.6,165.3 170.6,167.2 171.5,167.2 171.5,169.1 172.3,169.1 172.3,171.0 173.1,171.0 173.1,172.9 173.9,172.9 173.9,174.9 174.7,174.9 174.7,177.0 175.6,177.0 175.6,179.1 176.4,179.1 176.4,181.1 177.2,181.1 177.2,183.1 178.0,183.1 178.0,185.2 178.7,185.2 178.7,187.2 179.3,187.2 179.3,189.1 180.0,189.1 180.0,191.1 180.6,191.1 180.6,193.0 181.3,193.0 181.3,195.0 181.9,195.0 181.9,197.0 182.6,197.0 182.6,198.9 183.2,198.9 183.2,200.9 183.9,200.9 183.9,202.8 184.5,202.8 184.5,204.8 185.7,204.8 185.7,206.8 186.8,206.8 186.8,208.7 188.0,208.7 188.0,210.7 189.1,210.7 189.1,212.6 190.3,212.6 190.3,214.6 201.7,214.6 201.7,217.1 205.0,217.1 205.0,222.8 216.5,222.8 216.5,226.9 239.6,226.9 239.6,233.5 271.6,233.5" fill="none" stroke="#f01c1c" stroke-width="1.6"/><polyline points="165.7,155.7 168.2,155.7 168.2,157.4 169.6,157.4 169.6,159.3 170.9,159.3 170.9,161.2 172.3,161.2 172.3,163.1 173.7,163.1 173.7,165.3 175.0,165.3 175.0,167.4 176.4,167.4 176.4,169.6 177.4,169.6 177.4,171.4 178.4,171.4 178.4,173.3 179.5,173.3 179.5,175.2 180.5,175.2 180.5,177.0 181.1,177.0 181.1,179.1 181.7,179.1 181.7,181.1 182.3,181.1 182.3,183.1 182.9,183.1 182.9,185.2 183.9,185.2 183.9,187.2 184.9,187.2 184.9,189.1 185.8,189.1 185.8,191.1 186.8,191.1 186.8,193.0 187.8,193.0 187.8,195.0 188.6,195.0 188.6,197.2 189.5,197.2 189.5,199.3 190.3,199.3 190.3,201.5 191.1,201.5 191.1,203.8 191.9,203.8 191.9,206.0 192.8,206.0 192.8,208.2 193.6,208.2 193.6,210.5 196.1,210.5 196.1,211.3 198.5,211.3 198.5,212.2 200.1,212.2 200.1,213.8 201.7,213.8 201.7,215.5 203.8,215.5 203.8,216.7 205.8,216.7 205.8,217.9 208.0,217.9 208.0,218.4 210.2,218.4 210.2,219.0 212.4,219.0 212.4,219.5 213.2,219.5 213.2,222.0 274.0,222.0" fill="none" stroke="#1c1cf0" stroke-width="1.6"/><rect x="165.7" y="152.5" width="112.5" height="98.5" fill="none" stroke="#a0a0a0" stroke-width="0.9"/><line x1="162.7" y1="246.9" x2="165.7" y2="246.9" stroke="#a0a0a0" stroke-width="0.8"/><text x="157.3" y="246.9" transform="rotate(-90 157.3 246.9)" text-anchor="middle" dominant-baseline="central" font-size="4.7" textLength="7.06" lengthAdjust="spacingAndGlyphs" fill="#111">0.0</text><line x1="162.7" y1="228.7" x2="165.7" y2="228.7" stroke="#a0a0a0" stroke-width="0.8"/><text x="157.3" y="228.7" transform="rotate(-90 157.3 228.7)" text-anchor="middle" dominant-baseline="central" font-size="4.7" textLength="7.06" lengthAdjust="spacingAndGlyphs" fill="#111">0.2</text><line x1="162.7" y1="210.4" x2="165.7" y2="210.4" stroke="#a0a0a0" stroke-width="0.8"/><text x="157.3" y="210.4" transform="rotate(-90 157.3 210.4)" text-anchor="middle" dominant-baseline="central" font-size="4.7" textLength="7.06" lengthAdjust="spacingAndGlyphs" fill="#111">0.4</text><line x1="162.7" y1="192.2" x2="165.7" y2="192.2" stroke="#a0a0a0" stroke-width="0.8"/><text x="157.3" y="192.2" transform="rotate(-90 157.3 192.2)" text-anchor="middle" dominant-baseline="central" font-size="4.7" textLength="7.06" lengthAdjust="spacingAndGlyphs" fill="#111">0.6</text><line x1="162.7" y1="173.9" x2="165.7" y2="173.9" stroke="#a0a0a0" stroke-width="0.8"/><text x="157.3" y="173.9" transform="rotate(-90 157.3 173.9)" text-anchor="middle" dominant-baseline="central" font-size="4.7" textLength="7.06" lengthAdjust="spacingAndGlyphs" fill="#111">0.8</text><line x1="162.7" y1="155.7" x2="165.7" y2="155.7" stroke="#a0a0a0" stroke-width="0.8"/><text x="157.3" y="155.7" transform="rotate(-90 157.3 155.7)" text-anchor="middle" dominant-baseline="central" font-size="4.7" textLength="7.06" lengthAdjust="spacingAndGlyphs" fill="#111">1.0</text><line x1="165.3" y1="251.0" x2="165.3" y2="254.0" stroke="#a0a0a0" stroke-width="0.8"/><text x="165.3" y="260.4" text-anchor="middle" font-size="4.7" textLength="2.82" lengthAdjust="spacingAndGlyphs" fill="#111">0</text><line x1="187.9" y1="251.0" x2="187.9" y2="254.0" stroke="#a0a0a0" stroke-width="0.8"/><text x="187.9" y="260.4" text-anchor="middle" font-size="4.7" textLength="5.65" lengthAdjust="spacingAndGlyphs" fill="#111">50</text><line x1="209.8" y1="251.0" x2="209.8" y2="254.0" stroke="#a0a0a0" stroke-width="0.8"/><text x="209.8" y="260.4" text-anchor="middle" font-size="4.7" textLength="8.47" lengthAdjust="spacingAndGlyphs" fill="#111">100</text><line x1="231.8" y1="251.0" x2="231.8" y2="254.0" stroke="#a0a0a0" stroke-width="0.8"/><text x="231.8" y="260.4" text-anchor="middle" font-size="4.7" textLength="8.47" lengthAdjust="spacingAndGlyphs" fill="#111">150</text><line x1="255.0" y1="251.0" x2="255.0" y2="254.0" stroke="#a0a0a0" stroke-width="0.8"/><text x="255.0" y="260.4" text-anchor="middle" font-size="4.7" textLength="8.47" lengthAdjust="spacingAndGlyphs" fill="#111">200</text><line x1="277.5" y1="251.0" x2="277.5" y2="254.0" stroke="#a0a0a0" stroke-width="0.8"/><text x="277.5" y="260.4" text-anchor="middle" font-size="4.7" textLength="8.47" lengthAdjust="spacingAndGlyphs" fill="#111">250</text><text x="149.5" y="201.4" transform="rotate(-90 149.5 201.4)" text-anchor="middle" dominant-baseline="central" class="yl" font-size="5.8" textLength="42.7" lengthAdjust="spacingAndGlyphs" fill="#111">Percent survival</text><text x="197.6" y="149.3" class="tt" font-size="7.3" textLength="49.1" lengthAdjust="spacingAndGlyphs" fill="#111">Overall Survival</text><text x="222.3" y="267.8" text-anchor="middle" font-size="6.2" textLength="20.5" lengthAdjust="spacingAndGlyphs" fill="#111">Months</text><text x="167.0" y="249.0" font-family='"Liberation Serif", serif' class="nm" font-weight="bold" font-size="9.8" textLength="25.7" lengthAdjust="spacingAndGlyphs" fill="#111">LUAD</text><line x1="227.3" y1="156.4" x2="236.4" y2="156.4" stroke="#1c1cf0" stroke-width="1.3"/><line x1="227.3" y1="160.9" x2="236.4" y2="160.9" stroke="#f01c1c" stroke-width="1.3"/><text x="275.0" y="157.9" text-anchor="end" class="lg" font-size="4.4" textLength="36.12" lengthAdjust="spacingAndGlyphs" fill="#111">Low UBE2C TPM</text><text x="275.0" y="162.3" text-anchor="end" class="lg" font-size="4.4" textLength="37.14" lengthAdjust="spacingAndGlyphs" fill="#111">High UBE2C TPM</text><text x="275.0" y="167.6" text-anchor="end" class="lg" font-size="4.4" textLength="32.24" lengthAdjust="spacingAndGlyphs" fill="#111">Logrank p=0.02</text><text x="275.0" y="172.5" text-anchor="end" class="lg" font-size="4.4" textLength="27.60" lengthAdjust="spacingAndGlyphs" fill="#111">HR(high)=1.4</text><text x="275.0" y="178.0" text-anchor="end" class="lg" font-size="4.4" textLength="26.58" lengthAdjust="spacingAndGlyphs" fill="#111">p(HR)=0.021</text><text x="275.0" y="183.5" text-anchor="end" class="lg" font-size="4.4" textLength="24.79" lengthAdjust="spacingAndGlyphs" fill="#111">n(high)=239</text><text x="275.0" y="188.5" text-anchor="end" class="lg" font-size="4.4" textLength="22.98" lengthAdjust="spacingAndGlyphs" fill="#111">n(low)=239</text></g>
<g><polyline points="307.4,156.5 318.9,157.0 323.9,164.6 327.7,175.9 330.2,185.9 334.0,189.7 340.2,190.9 347.8,193.4 357.8,198.5 405.5,198.5" fill="none" stroke="#bcbcf4" stroke-width="0.7"/><polyline points="307.4,156.5 310.1,162.1 316.4,172.1 321.4,182.2 325.2,190.9 327.7,199.7 332.0,210.0 337.0,214.0 345.0,218.0 355.0,222.0 362.0,229.4 407.0,229.4" fill="none" stroke="#bcbcf4" stroke-width="0.7"/><polyline points="307.4,156.5 313.9,160.8 317.6,169.6 321.4,180.9 325.2,189.7 328.9,198.5 332.7,206.0 337.0,209.7 381.0,209.7" fill="none" stroke="#f4bcbc" stroke-width="0.7"/><polyline points="310.1,164.6 313.9,180.9 317.6,190.9 321.4,202.2 325.0,212.0 333.0,230.0 348.0,234.3 381.0,234.3" fill="none" stroke="#f4bcbc" stroke-width="0.7"/><polyline points="307.4,156.5 309.8,156.5 309.8,157.4 310.6,157.4 310.6,159.3 311.5,159.3 311.5,161.2 312.3,161.2 312.3,163.1 312.6,163.1 312.6,165.3 312.8,165.3 312.8,167.4 313.1,167.4 313.1,169.6 313.9,169.6 313.9,172.1 314.7,172.1 314.7,174.5 315.9,174.5 315.9,176.2 317.2,176.2 317.2,177.8 317.7,177.8 317.7,179.7 318.3,179.7 318.3,181.7 318.8,181.7 318.8,183.6 319.6,183.6 319.6,185.8 320.5,185.8 320.5,187.9 321.3,187.9 321.3,190.1 322.1,190.1 322.1,192.6 322.9,192.6 322.9,195.0 323.7,195.0 323.7,196.6 324.3,196.6 324.3,198.5 324.8,198.5 324.8,200.5 325.4,200.5 325.4,202.4 327.0,202.4 327.0,204.4 328.6,204.4 328.6,206.5 329.9,206.5 329.9,208.1 331.1,208.1 331.1,209.7 331.9,209.7 331.9,212.1 332.7,212.1 332.7,214.6 333.3,214.6 333.3,216.5 333.8,216.5 333.8,218.5 334.4,218.5 334.4,220.4 348.3,220.4 348.3,225.3 380.5,225.3 380.5,232.6 386.2,232.6 386.2,247.6" fill="none" stroke="#f01c1c" stroke-width="1.6"/><polyline points="307.4,156.5 312.6,157.0 314.5,157.0 314.5,158.3 316.4,158.3 316.4,159.6 318.3,159.6 318.3,162.1 320.2,162.1 320.2,164.6 320.8,164.6 320.8,166.5 321.4,166.5 321.4,168.3 322.1,168.3 322.1,170.2 322.7,170.2 322.7,172.1 323.9,172.1 323.9,174.6 325.2,174.6 325.2,177.1 325.6,177.1 325.6,179.2 326.0,179.2 326.0,181.3 326.4,181.3 326.4,183.4 327.0,183.4 327.0,185.3 327.6,185.3 327.6,187.2 328.3,187.2 328.3,189.0 328.9,189.0 328.9,190.9 329.2,190.9 329.2,192.8 329.5,192.8 329.5,194.7 329.9,194.7 329.9,196.6 330.2,196.6 330.2,198.5 331.4,198.5 331.4,200.6 332.7,200.6 332.7,202.7 334.4,202.7 334.4,204.5 340.1,204.5 340.1,206.5 345.8,206.5 345.8,208.9 355.6,208.9 355.6,213.0 362.5,213.0 362.5,217.9 407.5,217.9" fill="none" stroke="#1c1cf0" stroke-width="1.6"/><rect x="307.4" y="152.9" width="102.5" height="98.3" fill="none" stroke="#a0a0a0" stroke-width="0.9"/><line x1="304.4" y1="248.1" x2="307.4" y2="248.1" stroke="#a0a0a0" stroke-width="0.8"/><text x="298.7" y="248.1" transform="rotate(-90 298.7 248.1)" text-anchor="middle" dominant-baseline="central" font-size="4.7" textLength="7.06" lengthAdjust="spacingAndGlyphs" fill="#111">0.0</text><line x1="304.4" y1="229.8" x2="307.4" y2="229.8" stroke="#a0a0a0" stroke-width="0.8"/><text x="298.7" y="229.8" transform="rotate(-90 298.7 229.8)" text-anchor="middle" dominant-baseline="central" font-size="4.7" textLength="7.06" lengthAdjust="spacingAndGlyphs" fill="#111">0.2</text><line x1="304.4" y1="211.5" x2="307.4" y2="211.5" stroke="#a0a0a0" stroke-width="0.8"/><text x="298.7" y="211.5" transform="rotate(-90 298.7 211.5)" text-anchor="middle" dominant-baseline="central" font-size="4.7" textLength="7.06" lengthAdjust="spacingAndGlyphs" fill="#111">0.4</text><line x1="304.4" y1="193.1" x2="307.4" y2="193.1" stroke="#a0a0a0" stroke-width="0.8"/><text x="298.7" y="193.1" transform="rotate(-90 298.7 193.1)" text-anchor="middle" dominant-baseline="central" font-size="4.7" textLength="7.06" lengthAdjust="spacingAndGlyphs" fill="#111">0.6</text><line x1="304.4" y1="174.8" x2="307.4" y2="174.8" stroke="#a0a0a0" stroke-width="0.8"/><text x="298.7" y="174.8" transform="rotate(-90 298.7 174.8)" text-anchor="middle" dominant-baseline="central" font-size="4.7" textLength="7.06" lengthAdjust="spacingAndGlyphs" fill="#111">0.8</text><line x1="304.4" y1="156.5" x2="307.4" y2="156.5" stroke="#a0a0a0" stroke-width="0.8"/><text x="298.7" y="156.5" transform="rotate(-90 298.7 156.5)" text-anchor="middle" dominant-baseline="central" font-size="4.7" textLength="7.06" lengthAdjust="spacingAndGlyphs" fill="#111">1.0</text><line x1="307.1" y1="251.2" x2="307.1" y2="254.2" stroke="#a0a0a0" stroke-width="0.8"/><text x="307.1" y="260.9" text-anchor="middle" font-size="4.7" textLength="2.82" lengthAdjust="spacingAndGlyphs" fill="#111">0</text><line x1="328.4" y1="251.2" x2="328.4" y2="254.2" stroke="#a0a0a0" stroke-width="0.8"/><text x="328.4" y="260.9" text-anchor="middle" font-size="4.7" textLength="5.65" lengthAdjust="spacingAndGlyphs" fill="#111">20</text><line x1="349.8" y1="251.2" x2="349.8" y2="254.2" stroke="#a0a0a0" stroke-width="0.8"/><text x="349.8" y="260.9" text-anchor="middle" font-size="4.7" textLength="5.65" lengthAdjust="spacingAndGlyphs" fill="#111">40</text><line x1="372.1" y1="251.2" x2="372.1" y2="254.2" stroke="#a0a0a0" stroke-width="0.8"/><text x="372.1" y="260.9" text-anchor="middle" font-size="4.7" textLength="5.65" lengthAdjust="spacingAndGlyphs" fill="#111">60</text><line x1="393.8" y1="251.2" x2="393.8" y2="254.2" stroke="#a0a0a0" stroke-width="0.8"/><text x="393.8" y="260.9" text-anchor="middle" font-size="4.7" textLength="5.65" lengthAdjust="spacingAndGlyphs" fill="#111">80</text><text x="291.5" y="202.5" transform="rotate(-90 291.5 202.5)" text-anchor="middle" dominant-baseline="central" class="yl" font-size="5.8" textLength="42.7" lengthAdjust="spacingAndGlyphs" fill="#111">Percent survival</text><text x="336.8" y="150.4" class="tt" font-size="7.3" textLength="45.3" lengthAdjust="spacingAndGlyphs" fill="#111">Overall Survival</text><text x="359.0" y="268.3" text-anchor="middle" font-size="6.2" textLength="20.5" lengthAdjust="spacingAndGlyphs" fill="#111">Months</text><text x="309.4" y="248.7" font-family='"Liberation Serif", serif' class="nm" font-weight="bold" font-size="9.8" textLength="25.8" lengthAdjust="spacingAndGlyphs" fill="#111">PAAD</text><line x1="364.1" y1="158.2" x2="372.3" y2="158.2" stroke="#1c1cf0" stroke-width="1.3"/><line x1="364.1" y1="162" x2="372.3" y2="162" stroke="#f01c1c" stroke-width="1.3"/><text x="408.0" y="159.3" text-anchor="end" class="lg" font-size="4.4" textLength="33.22" lengthAdjust="spacingAndGlyphs" fill="#111">Low UBE2C TPM</text><text x="408.0" y="163.1" text-anchor="end" class="lg" font-size="4.4" textLength="34.17" lengthAdjust="spacingAndGlyphs" fill="#111">High UBE2C TPM</text><text x="408.0" y="168.5" text-anchor="end" class="lg" font-size="4.4" textLength="34.38" lengthAdjust="spacingAndGlyphs" fill="#111">Logrank p=0.0031</text><text x="408.0" y="173.0" text-anchor="end" class="lg" font-size="4.4" textLength="25.39" lengthAdjust="spacingAndGlyphs" fill="#111">HR(high)=1.8</text><text x="408.0" y="178.5" text-anchor="end" class="lg" font-size="4.4" textLength="26.81" lengthAdjust="spacingAndGlyphs" fill="#111">p(HR)=0.0037</text><text x="408.0" y="183.8" text-anchor="end" class="lg" font-size="4.4" textLength="20.44" lengthAdjust="spacingAndGlyphs" fill="#111">n(high)=89</text><text x="408.0" y="189.2" text-anchor="end" class="lg" font-size="4.4" textLength="18.78" lengthAdjust="spacingAndGlyphs" fill="#111">n(low)=89</text></g>
<g><polyline points="434.1,151.9 440.9,159.6 447.1,169.6 452.1,177.1 458.4,183.4 463.4,187.2 467.2,193.4 472.2,199.7 479.7,202.7 486.0,207.0 496.0,212.3 504.8,216.0 512.4,218.5 532.4,218.5 537.4,220.6 539.1,220.6" fill="none" stroke="#bcbcf4" stroke-width="0.7"/><polyline points="437.1,159.6 440.9,172.1 444.6,180.9 449.6,190.9 455.9,197.2 462.2,201.0 470.0,212.0 482.2,226.0 495.0,232.0 512.4,238.6 532.4,243.6 537.4,243.6" fill="none" stroke="#bcbcf4" stroke-width="0.7"/><polyline points="436.0,152.0 442.0,163.0 450.0,178.0 458.0,190.0 466.0,198.0 474.7,206.0 485.0,213.0 494.8,219.8 518.6,222.3" fill="none" stroke="#f4bcbc" stroke-width="0.7"/><polyline points="436.0,160.0 442.0,178.0 448.0,196.0 454.6,212.3 474.7,223.6 484.8,232.3 498.6,237.4 524.9,243.6 535.0,244.0" fill="none" stroke="#f4bcbc" stroke-width="0.7"/><polyline points="434.1,151.9 435.7,151.9 436.4,151.9 436.4,153.9 437.1,153.9 437.1,155.8 437.5,155.8 437.5,157.7 437.9,157.7 437.9,159.6 438.4,159.6 438.4,161.4 438.8,161.4 438.8,163.3 439.2,163.3 439.2,165.2 439.6,165.2 439.6,167.1 440.2,167.1 440.2,169.0 440.9,169.0 440.9,170.8 441.5,170.8 441.5,172.7 442.1,172.7 442.1,174.6 443.1,174.6 443.1,176.8 444.0,176.8 444.0,179.0 444.9,179.0 444.9,181.2 445.9,181.2 445.9,183.4 446.5,183.4 446.5,185.3 447.1,185.3 447.1,187.2 447.8,187.2 447.8,189.0 448.4,189.0 448.4,190.9 449.6,190.9 449.6,193.0 450.9,193.0 450.9,195.1 452.1,195.1 452.1,197.2 453.4,197.2 453.4,199.0 454.6,199.0 454.6,200.9 455.9,200.9 455.9,202.7 457.8,202.7 457.8,203.7 459.7,203.7 459.7,204.7 460.5,204.7 460.5,206.4 461.4,206.4 461.4,208.1 462.2,208.1 462.2,209.8 464.0,209.8 464.0,211.1 465.9,211.1 465.9,212.3 467.6,212.3 467.6,213.1 469.3,213.1 469.3,214.0 471.0,214.0 471.0,214.8 472.9,214.8 472.9,215.4 474.7,215.4 474.7,216.0 477.2,216.0 477.2,217.9 479.7,217.9 479.7,219.8 482.2,219.8 482.2,221.1 482.2,228.1 492.3,228.1 492.3,231.1 498.6,231.1 498.6,234.9 518.6,234.9 518.6,238.1 535.0,238.1 535.0,246.1" fill="none" stroke="#f01c1c" stroke-width="1.6"/><polyline points="434.1,151.9 436.5,152.4 436.9,152.4 436.9,154.2 437.4,154.2 437.4,156.0 437.9,156.0 437.9,157.8 438.3,157.8 438.3,159.6 439.2,159.6 439.2,161.7 440.0,161.7 440.0,163.8 440.9,163.8 440.9,165.9 442.1,165.9 442.1,168.0 443.4,168.0 443.4,170.0 444.6,170.0 444.6,172.1 445.6,172.1 445.6,174.0 446.5,174.0 446.5,175.8 447.4,175.8 447.4,177.7 448.4,177.7 448.4,179.6 449.6,179.6 449.6,181.7 450.9,181.7 450.9,183.8 452.1,183.8 452.1,185.9 454.0,185.9 454.0,188.4 455.9,188.4 455.9,190.9 456.3,190.9 456.3,192.6 456.8,192.6 456.8,194.3 457.2,194.3 457.2,196.0 459.7,196.0 459.7,196.6 462.2,196.6 462.2,197.2 464.7,197.2 464.7,199.7 465.9,199.7 465.9,201.9 467.2,201.9 467.2,204.2 469.1,204.2 469.1,205.1 471.0,205.1 471.0,206.0 473.5,206.0 473.5,208.5 476.0,208.5 476.0,209.8 478.5,209.8 478.5,211.0 480.6,211.0 480.6,212.7 482.7,212.7 482.7,214.3 484.8,214.3 484.8,216.0 486.7,216.0 486.7,216.3 488.6,216.3 488.6,216.7 490.4,216.7 490.4,217.0 492.3,217.0 492.3,217.3 494.0,217.3 494.0,219.4 495.6,219.4 495.6,221.5 497.3,221.5 497.3,223.6 499.2,223.6 499.2,224.8 501.1,224.8 501.1,226.1 503.0,226.1 503.0,227.9 504.8,227.9 504.8,229.8 507.3,229.8 507.3,230.4 509.8,230.4 509.8,231.1 511.1,231.1 511.1,233.0 512.4,233.0 512.4,234.9 530.0,234.9 530.0,238.1 540.0,238.1" fill="none" stroke="#1c1cf0" stroke-width="1.6"/><rect x="434.1" y="147.7" width="109.9" height="104.0" fill="none" stroke="#a0a0a0" stroke-width="0.9"/><line x1="431.1" y1="248.1" x2="434.1" y2="248.1" stroke="#a0a0a0" stroke-width="0.8"/><text x="426.4" y="248.1" transform="rotate(-90 426.4 248.1)" text-anchor="middle" dominant-baseline="central" font-size="4.7" textLength="7.06" lengthAdjust="spacingAndGlyphs" fill="#111">0.0</text><line x1="431.1" y1="228.9" x2="434.1" y2="228.9" stroke="#a0a0a0" stroke-width="0.8"/><text x="426.4" y="228.9" transform="rotate(-90 426.4 228.9)" text-anchor="middle" dominant-baseline="central" font-size="4.7" textLength="7.06" lengthAdjust="spacingAndGlyphs" fill="#111">0.2</text><line x1="431.1" y1="209.6" x2="434.1" y2="209.6" stroke="#a0a0a0" stroke-width="0.8"/><text x="426.4" y="209.6" transform="rotate(-90 426.4 209.6)" text-anchor="middle" dominant-baseline="central" font-size="4.7" textLength="7.06" lengthAdjust="spacingAndGlyphs" fill="#111">0.4</text><line x1="431.1" y1="190.4" x2="434.1" y2="190.4" stroke="#a0a0a0" stroke-width="0.8"/><text x="426.4" y="190.4" transform="rotate(-90 426.4 190.4)" text-anchor="middle" dominant-baseline="central" font-size="4.7" textLength="7.06" lengthAdjust="spacingAndGlyphs" fill="#111">0.6</text><line x1="431.1" y1="171.1" x2="434.1" y2="171.1" stroke="#a0a0a0" stroke-width="0.8"/><text x="426.4" y="171.1" transform="rotate(-90 426.4 171.1)" text-anchor="middle" dominant-baseline="central" font-size="4.7" textLength="7.06" lengthAdjust="spacingAndGlyphs" fill="#111">0.8</text><line x1="431.1" y1="151.9" x2="434.1" y2="151.9" stroke="#a0a0a0" stroke-width="0.8"/><text x="426.4" y="151.9" transform="rotate(-90 426.4 151.9)" text-anchor="middle" dominant-baseline="central" font-size="4.7" textLength="7.06" lengthAdjust="spacingAndGlyphs" fill="#111">1.0</text><line x1="435.0" y1="251.7" x2="435.0" y2="254.7" stroke="#a0a0a0" stroke-width="0.8"/><text x="435.0" y="261.5" text-anchor="middle" font-size="4.7" textLength="2.82" lengthAdjust="spacingAndGlyphs" fill="#111">0</text><line x1="463.0" y1="251.7" x2="463.0" y2="254.7" stroke="#a0a0a0" stroke-width="0.8"/><text x="463.0" y="261.5" text-anchor="middle" font-size="4.7" textLength="8.47" lengthAdjust="spacingAndGlyphs" fill="#111">100</text><line x1="490.5" y1="251.7" x2="490.5" y2="254.7" stroke="#a0a0a0" stroke-width="0.8"/><text x="490.5" y="261.5" text-anchor="middle" font-size="4.7" textLength="8.47" lengthAdjust="spacingAndGlyphs" fill="#111">200</text><line x1="518.1" y1="251.7" x2="518.1" y2="254.7" stroke="#a0a0a0" stroke-width="0.8"/><text x="518.1" y="261.5" text-anchor="middle" font-size="4.7" textLength="8.47" lengthAdjust="spacingAndGlyphs" fill="#111">300</text><text x="418.6" y="202.3" transform="rotate(-90 418.6 202.3)" text-anchor="middle" dominant-baseline="central" class="yl" font-size="5.8" textLength="42.7" lengthAdjust="spacingAndGlyphs" fill="#111">Percent survival</text><text x="466.0" y="145.3" class="tt" font-size="7.3" textLength="47.4" lengthAdjust="spacingAndGlyphs" fill="#111">Overall Survival</text><text x="489.8" y="269.4" text-anchor="middle" font-size="6.2" textLength="20.5" lengthAdjust="spacingAndGlyphs" fill="#111">Months</text><text x="440.9" y="249.0" font-family='"Liberation Serif", serif' class="nm" font-weight="bold" font-size="9.8" textLength="27.5" lengthAdjust="spacingAndGlyphs" fill="#111">SKCM</text><line x1="494.7" y1="153" x2="503.8" y2="153" stroke="#1c1cf0" stroke-width="1.3"/><line x1="494.7" y1="157.1" x2="503.8" y2="157.1" stroke="#f01c1c" stroke-width="1.3"/><text x="541.5" y="154.5" text-anchor="end" class="lg" font-size="4.4" textLength="36.12" lengthAdjust="spacingAndGlyphs" fill="#111">Low UBE2C TPM</text><text x="541.5" y="159.0" text-anchor="end" class="lg" font-size="4.4" textLength="37.14" lengthAdjust="spacingAndGlyphs" fill="#111">High UBE2C TPM</text><text x="541.5" y="164.4" text-anchor="end" class="lg" font-size="4.4" textLength="34.81" lengthAdjust="spacingAndGlyphs" fill="#111">Logrank p=0.029</text><text x="541.5" y="169.0" text-anchor="end" class="lg" font-size="4.4" textLength="27.60" lengthAdjust="spacingAndGlyphs" fill="#111">HR(high)=1.3</text><text x="541.5" y="175.0" text-anchor="end" class="lg" font-size="4.4" textLength="26.58" lengthAdjust="spacingAndGlyphs" fill="#111">p(HR)=0.029</text><text x="541.5" y="180.5" text-anchor="end" class="lg" font-size="4.4" textLength="24.79" lengthAdjust="spacingAndGlyphs" fill="#111">n(high)=229</text><text x="541.5" y="186.0" text-anchor="end" class="lg" font-size="4.4" textLength="22.98" lengthAdjust="spacingAndGlyphs" fill="#111">n(low)=229</text></g>
</svg></body></html>
